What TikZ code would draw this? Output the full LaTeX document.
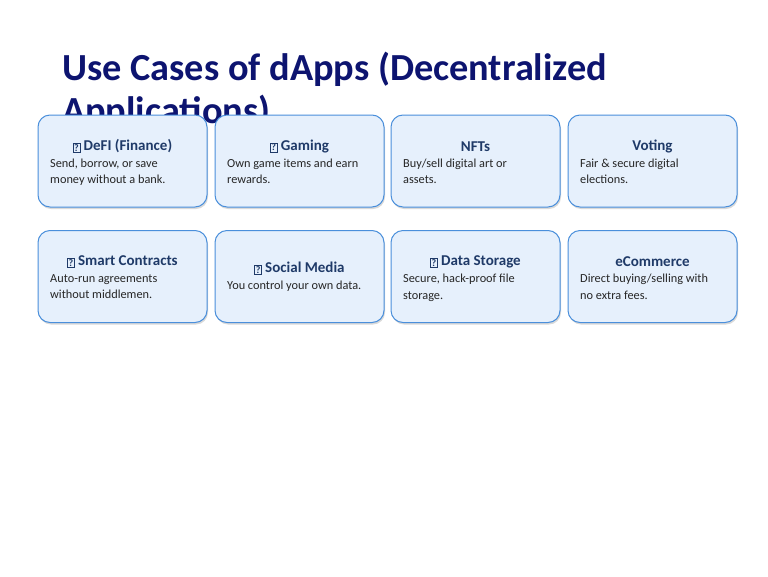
\documentclass[tikz,border=0pt]{standalone}
\usepackage{fontspec}
\setmainfont{Carlito}
\usetikzlibrary{shadows}
\definecolor{navy}{HTML}{0D1470}
\definecolor{headc}{HTML}{1F3A68}
\definecolor{boxf}{HTML}{E6F0FC}
\definecolor{boxd}{HTML}{4A8FDB}
\newcommand{\miss}{\raisebox{-0.5pt}{\setlength{\fboxsep}{0.8pt}\setlength{\fboxrule}{0.6pt}\fbox{\fontsize{10}{10}\selectfont ?}}}
\tikzset{
  card/.style={draw=boxd, line width=1pt, fill=boxf, rounded corners=12pt, minimum width=169pt, minimum height=92pt, drop shadow={opacity=0.3, shadow xshift=1pt, shadow yshift=-2pt}},
  head/.style={font=\bfseries\fontsize{15}{17}\selectfont, text=headc, inner sep=0pt},
  body/.style={font=\fontsize{12.3}{16.5}\selectfont, text=black!85, align=flush left, text width=155pt, inner sep=0pt, anchor=north west},
  ttl/.style={anchor=base west, text=navy, font=\bfseries\fontsize{38.3}{33}\selectfont, inner sep=0pt},
}
\begin{document}
\begin{tikzpicture}[x=1pt,y=-1pt]
\useasboundingbox (0,0) rectangle (768,576);
\node[ttl] (t1) at (62,80) {Use Cases of dApps (Decentralized};
\node[ttl] (t2) at (62,123) {Applications)};
\node[card] (c1) at (122.5,161) {};
\node[card] (c2) at (299.5,161) {};
\node[card] (c3) at (475.5,161) {};
\node[card] (c4) at (652.5,161) {};
\node[card] (c5) at (122.5,276.5) {};
\node[card] (c6) at (299.5,276.5) {};
\node[card] (c7) at (475.5,276.5) {};
\node[card] (c8) at (652.5,276.5) {};
\node[head] (h1) at (122.5,146.5) {\miss{} DeFI (Finance)};
\node[body] (b1) at (50,158.5) {Send, borrow, or save\\money without a bank.};
\node[head] (h2) at (299.5,146.5) {\miss{} Gaming};
\node[body] (b2) at (227,158.5) {Own game items and earn\\rewards.};
\node[head] (h3) at (475.5,146.5) {NFTs};
\node[body] (b3) at (403,158.5) {Buy/sell digital art or\\assets.};
\node[head] (h4) at (652.5,146.5) {Voting};
\node[body] (b4) at (580,158.5) {Fair \& secure digital\\elections.};
\node[head] (h5) at (122.5,262) {\miss{} Smart Contracts};
\node[body] (b5) at (50,274) {Auto-run agreements\\without middlemen.};
\node[head] (h6) at (299.5,268.5) {\miss{} Social Media};
\node[body] (b6) at (227,281) {You control your own data.};
\node[head] (h7) at (475.5,262) {\miss{} Data Storage};
\node[body] (b7) at (403,274) {Secure, hack-proof file\\storage.};
\node[head] (h8) at (652.5,262) {eCommerce};
\node[body] (b8) at (580,274) {Direct buying/selling with\\no extra fees.};
\end{tikzpicture}
\end{document}
